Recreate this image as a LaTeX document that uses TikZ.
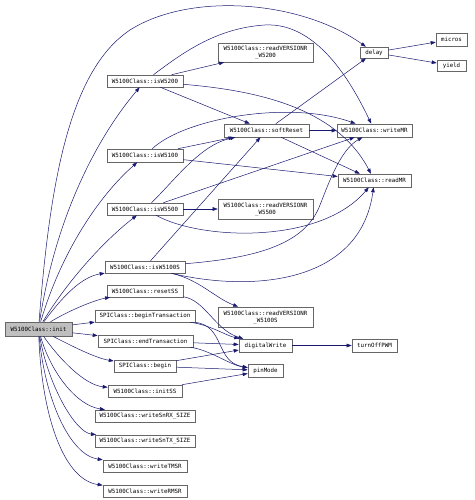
\documentclass[tikz,border=0pt]{standalone}
\usepackage{fontspec}
\setmonofont{DejaVu Sans Mono}
\usetikzlibrary{arrows.meta}
\definecolor{edgec}{HTML}{191970}
\definecolor{boxline}{HTML}{666666}
\begin{document}
\begin{tikzpicture}[x=1pt,y=-1pt,
  box/.style={draw=boxline, line width=0.6pt, fill=white, inner sep=0pt, align=center,
    font=\ttfamily\fontsize{5.8}{7}\selectfont, text=black},
  rootbox/.style={box, fill=black!25},
  e/.style={draw=edgec, line width=0.5pt, -{Triangle[length=5pt,width=3.6pt]}}]
\useasboundingbox (0,0) rectangle (474,500);

% nodes
\node[rootbox, minimum width=67pt, minimum height=14pt] (init) at (38.5,329) {W5100Class::init};
\node[box, minimum width=76pt, minimum height=12pt] (isW5200) at (145,81) {W5100Class::isW5200};
\node[box, minimum width=95pt, minimum height=19pt] (rv5200) at (265.5,52.5) {W5100Class::readVERSIONR\\\_W5200};
\node[box, minimum width=28pt, minimum height=11pt] (delay) at (374,52.5) {delay};
\node[box, minimum width=31pt, minimum height=13pt] (micros) at (451.5,39.5) {micros};
\node[box, minimum width=29pt, minimum height=11pt] (yield) at (451.5,65.5) {yield};
\node[box, minimum width=85pt, minimum height=13pt] (softReset) at (266.5,130.5) {W5100Class::softReset};
\node[box, minimum width=75pt, minimum height=13pt] (writeMR) at (374.5,130.5) {W5100Class::writeMR};
\node[box, minimum width=76pt, minimum height=13pt] (isW5100) at (145,155.5) {W5100Class::isW5100};
\node[box, minimum width=73pt, minimum height=13pt] (readMR) at (374.5,180.5) {W5100Class::readMR};
\node[box, minimum width=76pt, minimum height=12pt] (isW5500) at (145,209) {W5100Class::isW5500};
\node[box, minimum width=95pt, minimum height=20pt] (rv5500) at (265.5,209) {W5100Class::readVERSIONR\\\_W5500};
\node[box, minimum width=80pt, minimum height=12pt] (isW5100S) at (145,267) {W5100Class::isW5100S};
\node[box, minimum width=95pt, minimum height=20pt] (rv5100S) at (265.5,317) {W5100Class::readVERSIONR\\\_W5100S};
\node[box, minimum width=76pt, minimum height=12pt] (resetSS) at (145,291) {W5100Class::resetSS};
\node[box, minimum width=100pt, minimum height=12pt] (beginTr) at (145,316) {SPIClass::beginTransaction};
\node[box, minimum width=95pt, minimum height=12pt] (endTr) at (145.5,341) {SPIClass::endTransaction};
\node[box, minimum width=62pt, minimum height=12pt] (spibegin) at (145,366) {SPIClass::begin};
\node[box, minimum width=74pt, minimum height=12pt] (initSS) at (145,391) {W5100Class::initSS};
\node[box, minimum width=100pt, minimum height=12pt] (wrx) at (145,416) {W5100Class::writeSnRX\_SIZE};
\node[box, minimum width=100pt, minimum height=12pt] (wtx) at (145,441) {W5100Class::writeSnTX\_SIZE};
\node[box, minimum width=84pt, minimum height=12pt] (wtmsr) at (145,466) {W5100Class::writeTMSR};
\node[box, minimum width=84pt, minimum height=12pt] (wrmsr) at (145,491) {W5100Class::writeRMSR};
\node[box, minimum width=53pt, minimum height=13pt] (dw) at (265.5,345.5) {digitalWrite};
\node[box, minimum width=45pt, minimum height=13pt] (pwm) at (374.5,345.5) {turnOffPWM};
\node[box, minimum width=35pt, minimum height=13pt] (pinMode) at (265.5,370.5) {pinMode};

% edges from init
\draw[e] (init) .. controls (50,180) and (70,70) .. (130,30) .. controls (190,-8) and (300,0) .. (delay);
\draw[e] (init) .. controls (55,220) and (95,140) .. (isW5200);
\draw[e] (init) .. controls (62,250) and (100,195) .. (isW5100);
\draw[e] (init) .. controls (68,280) and (105,240) .. (isW5500);
\draw[e] (init) .. controls (60,300) and (80,277) .. (isW5100S);
\draw[e] (init) .. controls (70,310) and (95,300) .. (resetSS);
\draw[e] (init) -- (beginTr);
\draw[e] (init) -- (endTr);
\draw[e] (init) .. controls (70,345) and (95,358) .. (spibegin);
\draw[e] (init) .. controls (60,360) and (85,385) .. (initSS);
\draw[e] (init) .. controls (50,370) and (75,405) .. (wrx);
\draw[e] (init) .. controls (48,385) and (75,432) .. (wtx);
\draw[e] (init) .. controls (45,400) and (70,455) .. (wtmsr);
\draw[e] (init) .. controls (42,420) and (65,480) .. (wrmsr);

% isW5200
\draw[e] (isW5200) -- (rv5200);
\draw[e] (isW5200) .. controls (180,55) and (215,28) .. (265,25) .. controls (320,22) and (355,90) .. (writeMR);
\draw[e] (isW5200) -- (softReset);
\draw[e] (isW5200) .. controls (250,90) and (335,105) .. (readMR);

% isW5100
\draw[e] (isW5100) -- (softReset);
\draw[e] (isW5100) .. controls (185,118) and (290,100) .. (writeMR);
\draw[e] (isW5100) -- (readMR);

% isW5500
\draw[e] (isW5500) -- (rv5500);
\draw[e] (isW5500) .. controls (175,180) and (200,145) .. (softReset);
\draw[e] (isW5500) -- (writeMR);
\draw[e] (isW5500) .. controls (200,240) and (320,245) .. (readMR);

% isW5100S
\draw[e] (isW5100S) -- (softReset);
\draw[e] (isW5100S) .. controls (255,258) and (305,245) .. (320,205) .. controls (328,185) and (340,150) .. (writeMR);
\draw[e] (isW5100S) .. controls (250,292) and (360,285) .. (readMR);
\draw[e] (isW5100S) .. controls (200,280) and (215,298) .. (rv5100S);

% softReset
\draw[e] (softReset) -- (delay);
\draw[e] (softReset) -- (writeMR);
\draw[e] (softReset) -- (readMR);

% delay
\draw[e] (delay) -- (micros);
\draw[e] (delay) -- (yield);

% lower group
\draw[e] (resetSS) .. controls (205,300) and (215,330) .. (dw);
\draw[e] (beginTr) .. controls (210,325) and (225,335) .. (dw);
\draw[e] (beginTr) .. controls (225,326) and (215,362) .. (pinMode);
\draw[e] (endTr) -- (dw);
\draw[e] (endTr) .. controls (210,350) and (230,365) .. (pinMode);
\draw[e] (spibegin) -- (dw);
\draw[e] (spibegin) -- (pinMode);
\draw[e] (initSS) -- (pinMode);
\draw[e] (dw) -- (pwm);
\end{tikzpicture}
\end{document}
